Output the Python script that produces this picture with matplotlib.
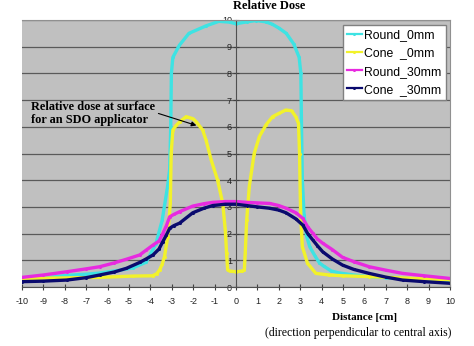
import numpy as np
import matplotlib.pyplot as plt

plt.rcParams['axes.unicode_minus'] = False

# Perfiles de dosis relativa
x_round0 = [-10, -9, -8, -7, -6.4, -5.5, -4.8, -4.2, -3.75, -3.45, -3.2, -3.1, -3.05, -3.02,
            -2.95, -2.65, -2.2, -1.4, -0.8, -0.3, 0, 0.5, 0.95, 1.4, 1.7, 2.0, 2.35, 2.7, 2.95,
            3.03, 3.06, 3.1, 3.18, 3.3, 3.45, 3.7, 3.9, 4.1, 4.45, 4.8, 5.5, 6.2, 7, 7.8, 9, 10]
y_round0 = [0.26, 0.33, 0.43, 0.48, 0.52, 0.62, 0.72, 0.93, 1.6, 2.5, 3.75, 4.4, 6.0, 8.0,
            8.6, 9.05, 9.5, 9.78, 9.95, 9.92, 9.86, 9.93, 9.98, 9.93, 9.84, 9.7, 9.5, 9.1, 8.6,
            8.0, 6.0, 4.0, 2.7, 1.9, 1.5, 1.15, 0.9, 0.78, 0.6, 0.53, 0.45, 0.39, 0.35, 0.32, 0.28, 0.24]

x_cone0 = [-10, -8, -6.4, -4.8, -3.9, -3.7, -3.57, -3.45, -3.34, -3.19, -3.07, -3.03, -2.95,
           -2.8, -2.64, -2.33, -2.0, -1.86, -1.56, -1.4, -1.16, -0.86, -0.62, -0.5, -0.44, -0.39,
           -0.3, 0, 0.3, 0.39, 0.43, 0.5, 0.62, 0.85, 1.09, 1.4, 1.71, 2.0, 2.33, 2.6, 2.79, 2.92,
           2.97, 3.0, 3.03, 3.1, 3.34, 3.73, 4.35, 5, 6.2, 8, 10]
y_cone0 = [0.32, 0.34, 0.36, 0.41, 0.42, 0.5, 0.64, 0.85, 1.14, 1.89, 3.14, 5.0, 5.88,
           6.05, 6.18, 6.38, 6.3, 6.19, 5.88, 5.5, 4.76, 4.0, 3.13, 2.13, 1.26, 0.64,
           0.6, 0.57, 0.6, 0.64, 1.26, 2.51, 3.76, 5.0, 5.63, 6.07, 6.38, 6.5, 6.63, 6.6, 6.38, 6.13,
           5.0, 3.5, 2.51, 1.51, 0.89, 0.51, 0.45, 0.42, 0.39, 0.33, 0.27]

x_30 = [-10, -9, -7.92, -7, -6.37, -5.7, -5.12, -4.5, -4.2, -3.88, -3.6, -3.42, -3.25, -3.1,
        -2.9, -2.64, -2.02, -1.5, -1.09, -0.5, 0, 0.5, 1.0, 1.57, 2.0, 2.34, 2.8, 3.12, 3.35,
        3.59, 3.8, 4.05, 4.5, 4.98, 5.5, 6.22, 7, 7.78, 8.8, 10]
y_round30 = [0.36, 0.45, 0.57, 0.68, 0.76, 0.9, 1.04, 1.2, 1.38, 1.57, 1.72, 2.0, 2.3, 2.63,
             2.72, 2.82, 3.03, 3.12, 3.17, 3.2, 3.2, 3.17, 3.15, 3.13, 3.05, 2.95, 2.78, 2.57, 2.25,
             2.01, 1.8, 1.64, 1.4, 1.11, 0.95, 0.76, 0.63, 0.51, 0.42, 0.32]
y_cone30 = [0.2, 0.22, 0.26, 0.35, 0.45, 0.56, 0.7, 0.92, 1.05, 1.2, 1.42, 1.7, 1.95, 2.2,
            2.3, 2.39, 2.78, 2.95, 3.05, 3.1, 3.1, 3.05, 3.0, 2.95, 2.88, 2.78, 2.55, 2.32, 2.0,
            1.76, 1.55, 1.32, 1.05, 0.82, 0.66, 0.51, 0.37, 0.26, 0.2, 0.14]

etiquetas = ["Round_0mm", "Cone  _0mm", "Round_30mm", "Cone  _30mm"]
colores = ["#3EE3E3", "#F2F22A", "#E82AE0", "#0A0A6E"]
x_ticks = list(range(-10, 11))
y_ticks = list(range(0, 11))

serif = "Liberation Serif"
sans = "Liberation Sans"

fig = plt.figure(figsize=(4.74, 3.46), dpi=100)
ax = fig.add_axes([0.0464, 0.1705, 0.903, 0.7717])
ax.set_facecolor("#C0C0C0")

curvas = [(x_round0, y_round0), (x_cone0, y_cone0), (x_30, y_round30), (x_30, y_cone30)]
for (xs, ys), lab, col in zip(curvas, etiquetas, colores):
    ax.plot(xs, ys, '-', color=col, lw=2.4, marker='o', markersize=1.2,
            label=lab, solid_joinstyle='round')

ax.set_xlim(-10, 10)
ax.set_ylim(0, 10)
ax.set_xticks(x_ticks)
ax.set_yticks(y_ticks)
ax.grid(axis='y', color="#5A5A5A", lw=0.9)
ax.set_axisbelow(True)

# eje Y en x=0
ax.spines['left'].set_position(('data', 0))
ax.spines['left'].set_color("#505050")
ax.spines['left'].set_linewidth(0.8)
ax.spines['bottom'].set_color("#505050")
for s in ['top', 'right']:
    ax.spines[s].set_color("#909090")
    ax.spines[s].set_linewidth(0.8)

ax.tick_params(axis='x', direction='inout', length=5, width=0.8, color="#404040",
               labelsize=6.5, pad=5, labelcolor="#222222")
ax.tick_params(axis='y', direction='inout', length=4, width=0.8, color="#404040",
               labelsize=6.5, pad=1, labelcolor="#222222")
for t in ax.get_xticklabels() + ax.get_yticklabels():
    t.set_fontfamily(sans)

fig.text(269 / 474, 1 - 6 / 346, "Relative Dose", family=serif, fontweight='bold',
         fontsize=9, ha='center', va='center')
fig.text(365 / 474, 1 - 317 / 346, "Distance [cm]", family=serif, fontweight='bold',
         fontsize=8, ha='center', va='center')
fig.text(358 / 474, 1 - 333 / 346, "(direction perpendicular to central axis)", family=serif,
         fontsize=8.5, ha='center', va='center')

ax.annotate("Relative dose at surface\nfor an SDO applicator", xy=(-1.85, 6.05),
            xytext=(-9.6, 6.5), family=serif, fontweight='bold', fontsize=8.8,
            ha='left', va='center', linespacing=1.15,
            arrowprops=dict(arrowstyle='-|>', color='black', lw=0.8, mutation_scale=7,
                            shrinkA=0, shrinkB=0, relpos=(1.03, 0.5)))

leg = ax.legend(loc='upper right', bbox_to_anchor=(0.996, 0.99), prop={'family': sans, 'size': 8.8},
                frameon=True, fancybox=False, handlelength=1.2, handletextpad=0.2,
                labelspacing=0.5, borderpad=0.35, borderaxespad=0.2)
leg.get_frame().set_edgecolor("#808080")
leg.get_frame().set_facecolor("white")
leg.get_frame().set_alpha(1)
for h in leg.get_lines():
    h.set_linewidth(1.6)

fig.savefig("out.png", dpi=100)
